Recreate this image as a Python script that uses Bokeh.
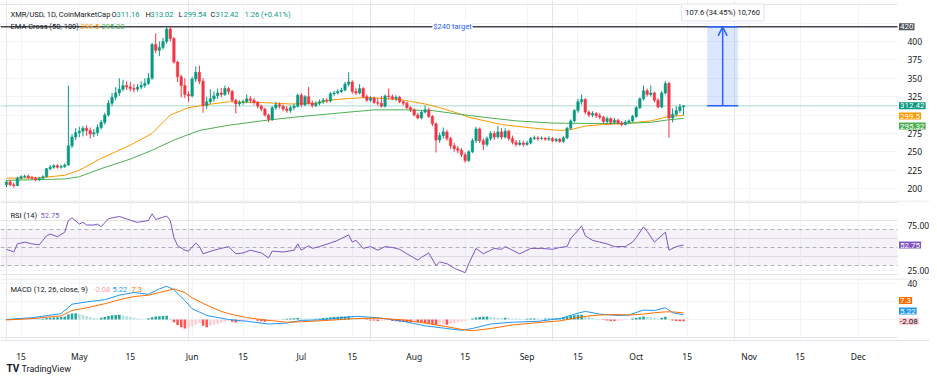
import pandas as pd
from bokeh.plotting import figure
from bokeh.layouts import column
from bokeh.models import (ColumnDataSource, Range1d, FixedTicker, Span, BoxAnnotation, LinearAxis,
                          Label, Arrow, OpenHead, Grid, NumeralTickFormatter)
from bokeh.embed import file_html
from bokeh.resources import INLINE

# ---------------- data ----------------
start_date = "2025-04-11"

opens = [205, 209, 205, 204, 214, 216, 217, 215, 214, 212,
         214, 216, 227, 229, 231, 229, 230, 232, 258, 270,
         276, 278, 282, 279, 274, 276, 283, 290, 300, 316,
         324, 330, 335, 340, 338, 336, 335, 338, 340, 343,
         350, 396, 388, 392, 400, 417, 404, 372, 352, 340,
         328, 326, 349, 358, 346, 313, 318, 322, 326, 330,
         328, 336, 332, 320, 315, 317, 318, 322, 320, 317,
         312, 308, 300, 294, 310, 314, 312, 308, 306, 310,
         312, 327, 314, 325, 316, 313, 316, 318, 320, 319,
         329, 330, 332, 334, 342, 345, 332, 330, 336, 325,
         320, 323, 317, 316, 312, 326, 325, 322, 324, 318,
         316, 310, 307, 300, 296, 304, 307, 298, 288, 266,
         272, 277, 268, 258, 254, 252, 246, 238, 250, 265,
         281, 265, 260, 268, 275, 270, 277, 270, 278, 268,
         263, 260, 262, 260, 262, 268, 269, 268, 268.5, 267,
         268, 265, 267, 264, 269, 282, 292, 306, 318, 321,
         304, 300, 302, 299, 297, 291, 295, 290, 293, 289,
         287, 290, 292, 298, 310, 322, 333, 328, 330, 320,
         311, 330, 343, 296, 301, 306, 311.16]
highs = [211, 212, 208, 216, 218, 219, 219, 217, 216, 216,
         218, 228, 232, 233, 233, 232, 234, 340, 274, 282,
         284, 285, 286, 283, 281, 287, 293, 303, 320, 330,
         338, 350, 348, 346, 345, 342, 342, 346, 350, 357,
         398, 411, 400, 405, 420, 420, 406, 374, 355, 350,
         332, 352, 366, 367, 350, 325, 335, 332, 336, 337,
         340, 338, 334, 322, 320, 321, 328, 326, 323, 319,
         314, 310, 302, 312, 318, 317, 314, 312, 313, 315,
         329, 330, 327, 338, 320, 319, 321, 323, 323, 331,
         333, 335, 337, 345, 358, 347, 337, 342, 338, 328,
         326, 325, 323, 326, 328, 336, 328, 327, 326, 320,
         318, 312, 309, 303, 306, 313, 310, 300, 290, 276,
         283, 280, 270, 262, 258, 255, 249, 252, 268, 284,
         283, 268, 271, 278, 278, 285, 282, 282, 280, 272,
         266, 266, 265, 265, 270, 272, 271, 271, 270, 271,
         270, 269, 269, 271, 284, 294, 308, 322, 328, 323,
         306, 305, 304, 303, 299, 298, 297, 296, 295, 292,
         293, 294, 300, 312, 324, 340, 336, 340, 332, 323,
         333, 346, 345, 309, 312, 315, 313.02]
lows = [202, 203, 201, 203, 212, 214, 213, 212, 210, 210,
        212, 215, 225, 227, 227, 227, 228, 231, 255, 266,
        270, 271, 272, 268, 270, 272, 280, 287, 298, 312,
        320, 326, 332, 334, 332, 331, 332, 335, 337, 341,
        348, 384, 380, 389, 397, 400, 370, 345, 324, 323,
        318, 324, 345, 342, 303, 308, 315, 318, 322, 324,
        326, 328, 318, 302, 312, 314, 316, 316, 314, 309,
        305, 298, 290, 292, 307, 309, 305, 303, 303, 307,
        310, 311, 312, 314, 310, 311, 313, 315, 316, 317,
        326, 328, 330, 332, 339, 329, 327, 328, 323, 318,
        318, 315, 313, 310, 310, 321, 320, 319, 316, 313,
        308, 304, 298, 294, 294, 302, 296, 285, 249, 262,
        268, 265, 254, 250, 248, 243, 235, 236, 248, 262,
        262, 252, 257, 265, 266, 268, 267, 268, 265, 260,
        257, 258, 257, 258, 260, 266, 265, 266, 265, 265,
        263, 263, 262, 262, 267, 280, 290, 303, 314, 301,
        297, 297, 296, 294, 289, 289, 287, 288, 287, 285,
        286, 288, 290, 296, 308, 320, 325, 325, 317, 309,
        309, 328, 269, 290, 298, 303, 299.54]
closes = [209, 205, 204, 214, 216, 217, 215, 214, 212, 214,
          216, 227, 229, 231, 229, 230, 232, 258, 270, 276,
          278, 282, 279, 274, 276, 283, 290, 300, 316, 324,
          330, 335, 340, 338, 336, 335, 338, 340, 343, 350,
          396, 388, 392, 400, 417, 404, 372, 352, 340, 328,
          326, 349, 358, 346, 313, 318, 322, 326, 330, 328,
          336, 332, 320, 315, 317, 318, 322, 320, 317, 312,
          308, 300, 294, 310, 314, 312, 308, 306, 310, 312,
          327, 314, 325, 316, 313, 316, 318, 320, 319, 329,
          330, 332, 334, 342, 345, 332, 330, 336, 325, 320,
          323, 317, 316, 312, 326, 325, 322, 324, 318, 316,
          310, 307, 300, 296, 304, 307, 298, 288, 266, 272,
          277, 268, 258, 254, 252, 246, 238, 250, 265, 281,
          265, 260, 268, 275, 270, 277, 270, 278, 268, 263,
          260, 262, 260, 262, 268, 269, 268, 268.5, 267, 268,
          265, 267, 264, 269, 282, 292, 306, 318, 321, 304,
          300, 302, 299, 297, 291, 295, 290, 293, 289, 287,
          290, 292, 298, 310, 322, 333, 328, 330, 320, 311,
          330, 343, 296, 301, 306, 311.16, 312.42]
change_text = "1.26 (+0.41%)"

# EMA cross (50 / 100): (day offset, value)
ema50_days = [0, 9, 16, 20, 26, 30, 34, 40, 45, 50, 55, 61, 70, 78, 85, 90, 99, 108,
              115, 119, 123, 127, 136, 145, 152, 155, 159, 164, 168, 172, 177, 182, 186]
ema50_vals = [214, 214.5, 218, 225, 241, 250, 259, 275, 300, 310, 314, 318, 317, 315, 316, 321, 324, 321,
              315, 310, 304, 297, 287, 282, 279, 280, 285, 287, 288, 289.5, 292, 298, 299.5]
ema100_days = [0, 16, 20, 26, 34, 40, 46, 53, 61, 70, 79, 92, 101, 109, 117, 123, 131, 140,
               150, 159, 168, 172, 177, 182, 186]
ema100_vals = [211, 213, 216, 227, 240, 252, 266, 279, 286, 292, 297, 303, 307, 307, 306, 302, 297, 292,
               289, 288.5, 288.5, 289, 290, 293.5, 295.32]

# RSI (14)
rsi_days = [0, 2, 3, 5, 7, 9, 11, 12, 14, 16, 17, 18, 20, 21, 22, 24, 25, 26, 28, 31,
            35, 36, 39, 40, 41, 44, 45, 46, 47, 49, 50, 52, 53, 54, 57, 61, 63, 65, 67, 70,
            72, 73, 76, 79, 80, 81, 83, 84, 86, 89, 91, 94, 95, 96, 98, 100, 102, 104, 106, 108,
            110, 113, 114, 116, 118, 119, 121, 123, 126, 127, 129, 131, 133, 134, 136, 137, 139, 141, 144, 147,
            150, 152, 154, 155, 157, 158, 159, 161, 163, 165, 167, 170, 172, 173, 175, 176, 178, 181, 182, 184, 186]
rsi_vals = [48, 45, 54, 56, 54, 53, 63, 65, 62, 67, 80, 83, 76, 78, 75, 75, 76, 73, 82, 84.5,
            79, 78, 80, 87.5, 81, 85, 80, 61, 52, 47, 46, 55, 51, 43, 47, 51, 43, 44, 47, 44,
            38.5, 46, 45, 47, 54, 47, 52, 49, 51, 55, 58, 64, 56, 58, 49, 51, 47, 51, 50, 48,
            43, 36, 39, 44, 30, 34, 32, 27, 22, 32, 49, 43, 47, 49, 48, 51, 47, 43, 49, 49,
            48, 50, 51, 60, 69, 74, 63, 58, 56, 54, 51, 51, 56, 61, 73, 68, 56, 67, 47, 51, 52.75]

# MACD (12, 26, close, 9)
macd_days = [0, 7, 15, 18, 22, 27, 31, 35, 39, 42, 44, 46, 49, 51, 55, 59, 61, 66, 72, 77,
             81, 86, 92, 96, 102, 109, 115, 121, 125, 128, 133, 139, 146, 152, 157, 159, 163, 168, 171, 175,
             178, 181, 183, 186]
macd_vals = [0, 2, 6.5, 17, 19.5, 22, 27, 30, 28, 34, 37, 33, 21, 12, 4.5, 1.5, 0, -2, -5, -4,
             -1, -0.5, 2, 3.5, 2, -2, -7, -10, -12, -10, -5, -3, -2, 1, 7, 9, 6, 4.5, 5, 10.5,
             10, 13, 7.5, 5.22]
signal_vals = [-0.5, 1, 4, 10, 13, 17.5, 22, 25.5, 27, 30, 32, 34, 30, 24, 16, 9, 6.5, 2, -1, -3,
               -2.5, -1.5, 0, 1, 1.5, -0.5, -4, -8, -11, -12.5, -10, -6, -3.5, -1.5, 2, 3.5, 5, 5.5, 5, 6,
               7.5, 8.5, 8.5, 7.3]
hist_vals = [0.3, 0.5, 0.8, 1.2, 1.4, 1.2, 1.0, 0.8, 0.7, 0.6, 0.8,
             1.5, 2.0, 2.3, 2.5, 2.7, 3.2, 5.6, 6.8, 7.0,
             6.0, 5.0, 3.8, 2.6, 1.6, 1.2,
             2.0, 2.8, 3.8, 4.6, 5.0, 5.2,
             4.4, 3.6, 2.8, 2.0, 1.2, 0.6, 0.4,
             1.5, 2.6, 3.2, 3.6, 4.0, 4.2, 1.0,
             -3.0, -6.0, -8.5, -10.0,
             -9.0, -7.5, -5.5, -4.0,
             -7.0, -8.5,
             -7.0, -5.8, -4.6, -3.5, -2.4, -1.5,
             -2.6, -3.2,
             -2.5, -1.8, -1.2, -0.8, -0.6,
             -1.5, -2.0, -2.4,
             -1.8, -1.2, -0.6, -0.2,
             0.4, 0.8, 1.2, 1.5, 1.6, 1.4, 1.2, 1.0, 0.8,
             0.9, 1.2, 1.6, 2.0,
             2.4, 2.8, 3.0, 3.2, 3.4, 3.6,
             2.6, 2.0, 1.4,
             0.2, -0.6, -1.0, -1.2, -1.6, -1.4,
             -1.0, -0.8,
             -1.6, -2.0, -2.4, -2.8, -3.0, -3.2,
             -2.6, -3.0, -3.4,
             -4.0, -4.6, -5.2, -6.0, -5.6, -5.2, -5.8,
             -5.0, -4.2, -3.4, -2.4, -1.4, -0.4,
             1.2, 2.2, 2.8, 3.0, 3.2, 2.8, 2.4,
             2.0, 1.8, 2.0, 1.6, 1.2, 1.0, 0.8,
             0.6, 0.8, 1.0, 1.1, 1.0, 0.9, 1.0, 1.1, 1.2, 1.4,
             1.8, 2.4, 3.0, 3.8, 4.6, 5.2, 5.4,
             4.0, 2.8, 1.8, 1.0, 0.2,
             -0.6, -1.2, -1.6, -1.8, -1.4, -1.0, -0.6, -0.2,
             1.0, 1.8, 2.6, 3.2, 3.0,
             2.5, 1.8, 1.2, 2.0, 3.0, 0.5,
             -1.0, -1.6, -1.9, -2.08]

# axis ticks (labels hidden behind value boxes are left out of the scale labels)
tick_dates = ["2025-04-15", "2025-05-01", "2025-05-15", "2025-06-01", "2025-06-15", "2025-07-01",
              "2025-07-15", "2025-08-01", "2025-08-15", "2025-09-01", "2025-09-15", "2025-10-01",
              "2025-10-15", "2025-11-01", "2025-11-15", "2025-12-01"]
tick_labels = ["15", "May", "15", "Jun", "15", "Jul", "15", "Aug", "15", "Sep", "15", "Oct",
               "15", "Nov", "15", "Dec"]
price_grid = [200, 225, 250, 275, 300, 325, 350, 375, 400, 425]
price_ticks = [200, 225, 250, 275, 325, 350, 375, 400]
rsi_grid = [25, 75]
rsi_ticks = [25, 75]
macd_grid = [0, 20, 40]
macd_ticks = [40]

# drawings
target_level = 420
measure_start = "2025-10-20 12:00"
measure_end = "2025-10-29 00:00"

# ---------------- layout helpers (page pixels -> data) ----------------
X0, PXD = 6.0, 3.64
def day_at(px):
    return (px - X0) / PXD
def price_at(py):
    return 400 + (41 - py) / 0.735
def rsi_at(py):
    return 50 + (247 - py) / 0.9
def macd_at(py):
    return (319 - py) / 0.9

FONT = "Noto Sans"
LFONT = "Roboto"
TXT = "#131722"
GRID = "#F0F3FA"
SEP = "#E0E3EB"
UP, DN = "#089981", "#F23645"
ORANGE, EGREEN = "#FF9800", "#4CAF50"
PURPLE = "#7E57C2"
BLUE, SIG = "#2196F3", "#FF6D00"
AX_PX = 897  # right edge of the plotting area (price scale starts here)

start = pd.Timestamp(start_date)
days = list(range(len(closes)))
tick_days = [(pd.Timestamp(d) - start).days for d in tick_dates]

xr = Range1d(day_at(0), day_at(929))
XEND = day_at(AX_PX)
common = dict(width=929, x_range=xr, output_backend="svg", toolbar_location=None,
              min_border=0, y_axis_location=None, x_axis_location=None,
              outline_line_color=None, background_fill_color="white", border_fill_color="white")

p1 = figure(height=200, y_range=Range1d(price_at(200), price_at(0)), **common)
p2 = figure(height=78, y_range=Range1d(rsi_at(278), rsi_at(200)), **common)
p3 = figure(height=102, y_range=Range1d(macd_at(380), macd_at(278)), **common)

for p, grid, ticks, fmt in ((p1, price_grid, price_ticks, None), (p2, rsi_grid, rsi_ticks, "0.00"),
                            (p3, macd_grid, macd_ticks, None)):
    p.add_layout(Grid(dimension=0, ticker=FixedTicker(ticks=tick_days), grid_line_color=GRID))
    p.add_layout(Grid(dimension=1, ticker=FixedTicker(ticks=grid), grid_line_color=GRID))
    # white price-scale area (covers grid lines to the right of the plot area)
    p.add_layout(BoxAnnotation(left=XEND, fill_color="white", fill_alpha=1.0, line_color=None,
                               level="underlay"))
    ax = LinearAxis(fixed_location=XEND, ticker=FixedTicker(ticks=ticks))
    if fmt:
        ax.formatter = NumeralTickFormatter(format=fmt)
    ax.major_tick_line_color = None
    ax.minor_tick_line_color = None
    ax.axis_line_color = None
    ax.major_label_text_font = FONT
    ax.major_label_text_font_size = "8.5px"
    ax.major_label_text_color = TXT
    ax.major_label_standoff = 4
    p.add_layout(ax, "right")

# time axis area below the MACD pane
p3.add_layout(BoxAnnotation(top=macd_at(340), fill_color="white", fill_alpha=1.0, line_color=None,
                            level="underlay"))
xa = LinearAxis(fixed_location=macd_at(340), ticker=FixedTicker(ticks=tick_days))
xa.major_label_overrides = {d: l for d, l in zip(tick_days, tick_labels)}
xa.major_tick_line_color = None
xa.minor_tick_line_color = None
xa.axis_line_color = SEP
xa.major_label_text_font = FONT
xa.major_label_text_font_size = "8.5px"
xa.major_label_text_color = TXT
xa.major_label_standoff = 4
p3.add_layout(xa, "below")


def add_text(p, txt, x, y, color=TXT, size="7.5px", align="left", baseline="middle",
             bg=None, pad=0, bold=False, border=None, font=LFONT):
    kw = {}
    if bg is not None:
        kw.update(background_fill_color=bg, background_fill_alpha=1.0, padding=pad)
    if border is not None:
        kw.update(border_line_color=border, border_line_alpha=1.0)
    p.add_layout(Label(x=x, y=y, text=txt, text_color=color, text_font=font,
                       text_font_size=size, text_align=align, text_baseline=baseline,
                       text_font_style="bold" if bold else "normal", level="annotation", **kw))

# ---------------- price pane ----------------
colors = [UP if c >= o else DN for o, c in zip(opens, closes)]
src = ColumnDataSource(dict(day=days, high=highs, low=lows,
                            top=[max(o, c) for o, c in zip(opens, closes)],
                            bottom=[min(o, c) for o, c in zip(opens, closes)],
                            color=colors))
p1.segment(x0=[xr.start], y0=[closes[-1]], x1=[XEND], y1=[closes[-1]],
           line_color=UP, line_alpha=0.35, line_width=1)
p1.segment(x0=[xr.start], y0=[target_level], x1=[XEND], y1=[target_level],
           line_color="#434651", line_width=1.5)
p1.line(ema50_days, ema50_vals, line_color=ORANGE, line_width=1)
p1.line(ema100_days, ema100_vals, line_color=EGREEN, line_width=1)
p1.segment(x0="day", y0="low", x1="day", y1="high", line_color="color", line_width=1, source=src)
p1.vbar(x="day", width=0.68, top="top", bottom="bottom", fill_color="color", line_color="color",
        line_width=0.5, source=src)

# measurement drawing
m0 = (pd.Timestamp(measure_start) - start) / pd.Timedelta(days=1)
m1 = (pd.Timestamp(measure_end) - start) / pd.Timedelta(days=1)
mc = (m0 + m1) / 2
p1.quad(left=[m0], right=[m1], bottom=[closes[-1]], top=[target_level],
        fill_color="#2962FF", fill_alpha=0.16, line_color=None)
p1.segment(x0=[m0, m0], y0=[closes[-1], target_level], x1=[m1, m1], y1=[closes[-1], target_level],
           line_color="#2962FF", line_width=1.5)
p1.add_layout(Arrow(end=OpenHead(size=9, line_color="#2962FF", line_width=1.5),
                    x_start=mc, y_start=closes[-1], x_end=mc, y_end=target_level,
                    line_color="#2962FF", line_width=1.5))
add_text(p1, "107.6 (34.45%) 10,760", mc, price_at(12), align="center", bg="white", pad=4,
         border="#E0E3EB")
add_text(p1, "$240 target", day_at(452), target_level, color="#2962FF", align="center",
         bg="white", pad=1)

# header legends
add_text(p1, "XMR/USD, 1D, CoinMarketCap", day_at(10), price_at(14))
ohlc = [("O", opens[-1]), ("H", highs[-1]), ("L", lows[-1]), ("C", closes[-1])]
hx = [111, 145, 178, 210]
for (lab, v), px in zip(ohlc, hx):
    add_text(p1, lab, day_at(px), price_at(14))
    add_text(p1, f"{v:.2f}", day_at(px + 5), price_at(14), color=UP)
add_text(p1, change_text, day_at(244), price_at(14), color=UP)
add_text(p1, "EMA Cross (50, 100)", day_at(10), price_at(26))
add_text(p1, f"{ema50_vals[-1]}", day_at(80), price_at(26), color=ORANGE)
add_text(p1, f"{ema100_vals[-1]}", day_at(101), price_at(26), color=EGREEN)

# price scale value boxes
AXX = day_at(AX_PX + 1.5)
add_text(p1, f"{target_level}", AXX, target_level, color="white", bg="#50535E", pad=1, size="8px")
add_text(p1, f"{closes[-1]:.2f}", AXX, closes[-1], color="white", bg=UP, pad=1, size="8px")
add_text(p1, f"{ema50_vals[-1]}", AXX, price_at(115.5), color="white", bg=ORANGE, pad=1, size="8px")
add_text(p1, f"{ema100_vals[-1]}", AXX, price_at(125.5), color="white", bg=EGREEN, pad=1, size="8px")

# ---------------- RSI pane ----------------
p2.add_layout(Span(location=rsi_at(200.5), dimension="width", line_color=SEP, line_width=1))
p2.add_layout(BoxAnnotation(bottom=30, top=70, right=XEND, fill_color=PURPLE, fill_alpha=0.08,
                            line_color=None))
for lvl in (70, 50, 30):
    p2.segment(x0=[xr.start], y0=[lvl], x1=[XEND], y1=[lvl], line_color="#787B86", line_alpha=0.55,
               line_width=1, line_dash="4 3")
p2.line(rsi_days, rsi_vals, line_color=PURPLE, line_width=1)
add_text(p2, "RSI (14)", day_at(10), rsi_at(215))
add_text(p2, f"{rsi_vals[-1]:.2f}", day_at(40), rsi_at(215), color=PURPLE)
add_text(p2, f"{rsi_vals[-1]:.2f}", AXX, rsi_vals[-1], color="white", bg=PURPLE, pad=1, size="8px")

# ---------------- MACD pane ----------------
p3.add_layout(Span(location=macd_at(278.5), dimension="width", line_color=SEP, line_width=1))
hcol = []
for i, h in enumerate(hist_vals):
    prev = hist_vals[i - 1] if i > 0 else 0
    if h >= 0:
        hcol.append("#26A69A" if h >= prev else "#B2DFDB")
    else:
        hcol.append("#FF5252" if h <= prev else "#FFCDD2")
p3.vbar(x=days, top=hist_vals, bottom=0, width=0.7, fill_color=hcol, line_color=None)
p3.line(macd_days, macd_vals, line_color=BLUE, line_width=1)
p3.line(macd_days, signal_vals, line_color=SIG, line_width=1)
add_text(p3, "MACD (12, 26, close, 9)", day_at(10), macd_at(289))
add_text(p3, f"{hist_vals[-1]:.2f}", day_at(93), macd_at(289), color="#F7A1AB")
add_text(p3, f"{macd_vals[-1]:.2f}", day_at(112), macd_at(289), color=BLUE)
add_text(p3, f"{signal_vals[-1]}", day_at(131), macd_at(289), color=SIG)
add_text(p3, f"{signal_vals[-1]}", AXX, macd_at(300), color="white", bg=SIG, pad=1, size="8px")
add_text(p3, f"{macd_vals[-1]:.2f}", AXX, macd_at(310.5), color="white", bg=BLUE, pad=1, size="8px")
add_text(p3, f"{hist_vals[-1]:.2f}", AXX, macd_at(321), color=TXT, bg="#FFCDD2", pad=1, size="8px")

# logo
add_text(p3, "TV", day_at(6), macd_at(368), size="10px", bold=True)
add_text(p3, "TradingView", day_at(21), macd_at(368), size="9px")

layout = column(p1, p2, p3, spacing=0)
try:
    from bokeh.models import GlobalInlineStyleSheet
    layout.stylesheets = [GlobalInlineStyleSheet(css="html, body { margin: 0; padding: 0; overflow: hidden; }")]
except Exception:
    pass

open("out.html", "w").write(file_html(layout, INLINE))
